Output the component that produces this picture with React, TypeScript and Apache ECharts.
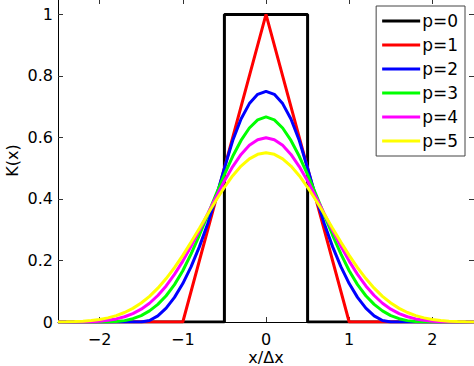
import React, { useEffect, useRef } from "react";
import * as echarts from "echarts";

const X_GRID = [
  -2.5, -2.4, -2.3, -2.2, -2.1, -2.0, -1.9, -1.8, -1.7, -1.6, -1.5, -1.4, -1.3, -1.2, -1.1, -1.0, -0.9,
  -0.8, -0.7, -0.6, -0.5, -0.4, -0.3, -0.2, -0.1, 0, 0.1, 0.2, 0.3, 0.4, 0.5, 0.6, 0.7, 0.8, 0.9, 1.0,
  1.1, 1.2, 1.3, 1.4, 1.5, 1.6, 1.7, 1.8, 1.9, 2.0, 2.1, 2.2, 2.3, 2.4, 2.5,
];

const P0_X = [-2.5, -0.5, -0.5, 0.5, 0.5, 2.5];
const P0_Y = [0, 0, 1, 1, 0, 0];

const P1_X = [-2.5, -1, 0, 1, 2.5];
const P1_Y = [0, 0, 1, 0, 0];

const P2_Y = [
  0, 0, 0, 0, 0, 0, 0, 0, 0, 0, 0, 0.005, 0.02, 0.045, 0.08, 0.125, 0.18, 0.245, 0.32, 0.405, 0.5,
  0.59, 0.66, 0.71, 0.74, 0.75, 0.74, 0.71, 0.66, 0.59, 0.5, 0.405, 0.32, 0.245, 0.18, 0.125, 0.08,
  0.045, 0.02, 0.005, 0, 0, 0, 0, 0, 0, 0, 0, 0, 0, 0,
];

const P3_Y = [
  0, 0, 0, 0, 0, 0, 0.0002, 0.0013, 0.0045, 0.0107, 0.0208, 0.036, 0.0572, 0.0853, 0.1215, 0.1667,
  0.2212, 0.2827, 0.3482, 0.4147, 0.4792, 0.5387, 0.5902, 0.6307, 0.6572, 0.6667, 0.6572, 0.6307,
  0.5902, 0.5387, 0.4792, 0.4147, 0.3482, 0.2827, 0.2212, 0.1667, 0.1215, 0.0853, 0.0572, 0.036,
  0.0208, 0.0107, 0.0045, 0.0013, 0.0002, 0, 0, 0, 0, 0, 0,
];

const P4_Y = [
  0, 0, 0.0001, 0.0003, 0.0011, 0.0026, 0.0054, 0.01, 0.0171, 0.0273, 0.0417, 0.061, 0.0861, 0.1173,
  0.1547, 0.1979, 0.2461, 0.298, 0.3521, 0.4063, 0.4583, 0.5054, 0.5447, 0.5744, 0.5927, 0.599,
  0.5927, 0.5744, 0.5447, 0.5054, 0.4583, 0.4063, 0.3521, 0.298, 0.2461, 0.1979, 0.1547, 0.1173,
  0.0861, 0.061, 0.0417, 0.0273, 0.0171, 0.01, 0.0054, 0.0026, 0.0011, 0.0003, 0.0001, 0, 0,
];

const P5_Y = [
  0.0003, 0.0006, 0.0014, 0.0027, 0.0049, 0.0083, 0.0134, 0.0207, 0.0308, 0.0443, 0.0617, 0.0835,
  0.1099, 0.1411, 0.1768, 0.2167, 0.2598, 0.3051, 0.351, 0.3959, 0.438, 0.4756, 0.5068, 0.5304, 0.545,
  0.55, 0.545, 0.5304, 0.5068, 0.4756, 0.438, 0.3959, 0.351, 0.3051, 0.2598, 0.2167, 0.1768, 0.1411,
  0.1099, 0.0835, 0.0617, 0.0443, 0.0308, 0.0207, 0.0134, 0.0083, 0.0049, 0.0027, 0.0014, 0.0006,
  0.0003,
];

const SERIES_NAMES = ["p=0", "p=1", "p=2", "p=3", "p=4", "p=5"];
const SERIES_COLORS = ["#000000", "#ff0000", "#0000ff", "#00ff00", "#ff00ff", "#ffff00"];
const X_TICKS = [-2, -1, 0, 1, 2];
const Y_TICKS = [0, 0.2, 0.4, 0.6, 0.8, 1];

const FONT = "'DejaVu Sans', Verdana, sans-serif";

function zip(xs: number[], ys: number[]) {
  return xs.map((x, i) => [x, ys[i]]);
}

export default function App() {
  const ref = useRef<HTMLDivElement>(null);
  useEffect(() => {
    if (!ref.current) return;
    const chart = echarts.init(ref.current, undefined, { renderer: "svg" });
    const seriesData = [
      zip(P0_X, P0_Y),
      zip(P1_X, P1_Y),
      zip(X_GRID, P2_Y),
      zip(X_GRID, P3_Y),
      zip(X_GRID, P4_Y),
      zip(X_GRID, P5_Y),
    ];
    const tickStyle = { show: true, inside: true, length: 5, lineStyle: { color: "#333", width: 1 } };
    chart.setOption({
      animation: false,
      backgroundColor: "#ffffff",
      grid: { left: 58, right: 0, top: -1, bottom: 44, containLabel: false, outerBoundsMode: "none" },
      legend: {
        orient: "vertical",
        right: 9,
        top: 6,
        data: SERIES_NAMES.map((n) => ({ name: n, icon: "rect" })),
        itemWidth: 38,
        itemHeight: 3,
        itemGap: 6,
        padding: [6, 7, 6, 6],
        borderColor: "#444",
        borderWidth: 1,
        backgroundColor: "#ffffff",
        textStyle: { fontFamily: FONT, fontSize: 17, color: "#000", lineHeight: 18, padding: [0, 0, 0, -3] },
      },
      xAxis: [
        {
          type: "value",
          min: -2.5,
          max: 2.5,
          position: "bottom",
          name: "x/Δx",
          nameLocation: "middle",
          nameGap: 28,
          nameMoveOverlap: false,
          nameTextStyle: { fontFamily: FONT, fontSize: 16, color: "#000", lineHeight: 14 },
          axisLine: { show: true, onZero: false, lineStyle: { color: "#000", width: 1 } },
          axisTick: { ...tickStyle, customValues: X_TICKS },
          axisLabel: {
            customValues: X_TICKS,
            fontFamily: FONT,
            fontSize: 16,
            lineHeight: 14,
            color: "#000",
            margin: 10,
            formatter: (v: number) => (v < 0 ? "\u2212" + Math.abs(v) : String(v)),
          },
          splitLine: { show: false },
        },
        {
          type: "value",
          min: -2.5,
          max: 2.5,
          position: "top",
          axisLine: { show: false, onZero: false },
          axisTick: { ...tickStyle, customValues: X_TICKS },
          axisLabel: { show: false },
          splitLine: { show: false },
        },
      ],
      yAxis: [
        {
          type: "value",
          min: 0,
          max: 1.05,
          position: "left",
          name: "K(x)",
          nameLocation: "middle",
          nameGap: 38,
          nameMoveOverlap: false,
          nameTextStyle: { fontFamily: FONT, fontSize: 16, color: "#000" },
          axisLine: { show: true, onZero: false, lineStyle: { color: "#000", width: 1 } },
          axisTick: { ...tickStyle, customValues: Y_TICKS },
          axisLabel: {
            customValues: Y_TICKS,
            fontFamily: FONT,
            fontSize: 16,
            color: "#000",
            margin: 5,
            formatter: (v: number) => String(Math.round(v * 10) / 10),
          },
          splitLine: { show: false },
        },
        {
          type: "value",
          min: 0,
          max: 1.05,
          position: "right",
          axisLine: { show: false, onZero: false },
          axisTick: { ...tickStyle, customValues: Y_TICKS },
          axisLabel: { show: false },
          splitLine: { show: false },
        },
      ],
      series: seriesData.map((d, i) => ({
        name: SERIES_NAMES[i],
        type: "line",
        data: d,
        showSymbol: false,
        symbol: "none",
        color: SERIES_COLORS[i],
        lineStyle: { color: SERIES_COLORS[i], width: 3 },
        z: 2 + i,
      })),
    });
    return () => chart.dispose();
  }, []);
  return (
    <div
      ref={ref}
      style={{ position: "fixed", left: 0, top: 0, width: 474, height: 366, background: "#fff" }}
    />
  );
}
